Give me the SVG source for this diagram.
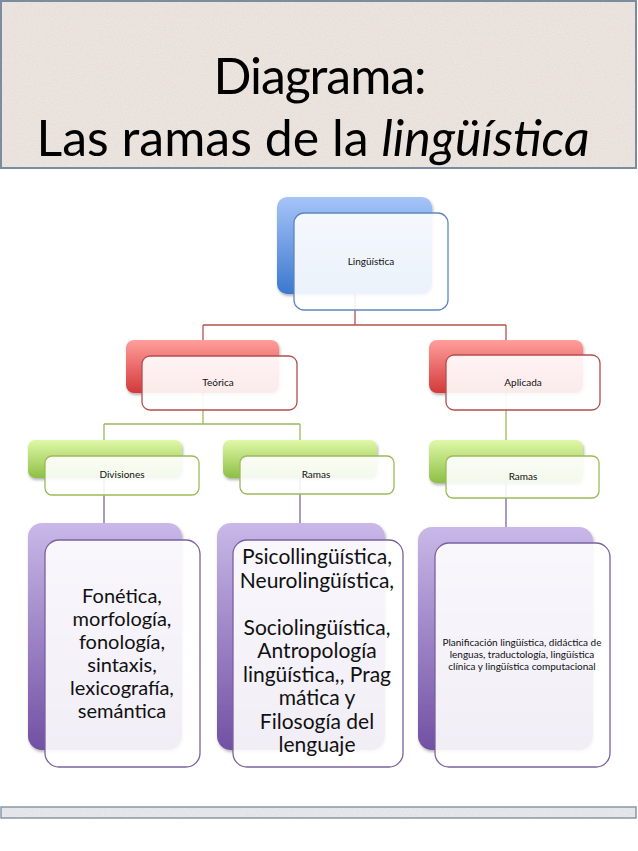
<svg xmlns="http://www.w3.org/2000/svg" width="638" height="851" viewBox="0 0 638 851">
<defs>
<linearGradient id="gBlue" x1="0" y1="0" x2="0" y2="1"><stop offset="0" stop-color="#a6c4f8"/><stop offset="1" stop-color="#3b78cf"/></linearGradient>
<linearGradient id="gRed" x1="0" y1="0" x2="0" y2="1"><stop offset="0" stop-color="#ff9e9b"/><stop offset="1" stop-color="#d4393a"/></linearGradient>
<linearGradient id="gGreen" x1="0" y1="0" x2="0" y2="1"><stop offset="0" stop-color="#e0f8a8"/><stop offset="1" stop-color="#8dbf45"/></linearGradient>
<linearGradient id="gPurple" x1="0" y1="0" x2="0" y2="1"><stop offset="0" stop-color="#c9b8e8"/><stop offset="1" stop-color="#7150a3"/></linearGradient>
<filter id="sh" x="-10%" y="-10%" width="125%" height="125%"><feDropShadow dx="1" dy="2" stdDeviation="1.5" flood-color="#000" flood-opacity="0.3"/></filter>
<filter id="tex" x="0" y="0" width="100%" height="100%"><feTurbulence type="fractalNoise" baseFrequency="0.9" numOctaves="2" seed="3" result="n"/><feColorMatrix in="n" type="matrix" values="0 0 0 0 0.55 0 0 0 0 0.5 0 0 0 0 0.47 0 0 0 0.35 0" result="c"/><feComposite in="c" in2="SourceGraphic" operator="in" result="t"/><feMerge><feMergeNode in="SourceGraphic"/><feMergeNode in="t"/></feMerge></filter>
<style>
.front{fill:#ffffff;fill-opacity:0.9;stroke-width:1.3}
.fb{stroke:#5f86bf}.fr{stroke:#b24f4d}.fg{stroke:#9bbb59}.fp{stroke:#7a619e}
.sm{font-family:Lato,"Open Sans",sans-serif;font-size:10px;fill:#111;text-anchor:middle}
.big{font-family:Lato,"Open Sans",sans-serif;font-size:20px;fill:#111;text-anchor:middle}
.mid{font-size:21px}
.title{font-family:Lato,"Open Sans",sans-serif;font-size:50px;fill:#000;text-anchor:middle}
.conn{fill:none;stroke-width:1.3}
</style>
</defs>
<rect width="638" height="851" fill="#ffffff"/>
<g id="banner">
<rect x="1" y="1" width="635" height="167" fill="#f1e9e4" filter="url(#tex)"/>
<rect x="1" y="1" width="635" height="167" fill="none" stroke="#7d8ba0" stroke-width="2"/>
<text class="title" x="320" y="94" textLength="213">Diagrama:</text>
<text class="title" x="313" y="156" textLength="553">Las ramas de la <tspan font-style="italic">lingüística</tspan></text>
</g>
<g id="footer">
<rect x="1" y="807" width="635" height="11" fill="#e9edf2" filter="url(#tex)"/>
<rect x="1" y="807" width="635" height="11" fill="none" stroke="#8c96a6" stroke-width="1.5"/>
</g>
<g id="connectors">
<path class="conn" stroke="#b5524f" d="M355 294 V325 M203 325 H506 M203 325 V340 M506 325 V340"/>
<path class="conn" stroke="#9bbb59" d="M203 393 V424 M104 424 H300 M104 424 V440 M300 424 V440 M506 393 V440"/>
<path class="conn" stroke="#8064a2" d="M104 478 V523 M300 478 V523 M506 483 V527"/>
</g>
<g id="n-linguistica">
<rect x="277" y="197" width="155" height="97" rx="10" fill="url(#gBlue)" filter="url(#sh)"/>
<rect class="front fb" x="294" y="213" width="154" height="97" rx="10"/>
<text class="sm" x="371" y="265">Lingüística</text>
</g>
<g id="n-teorica">
<rect x="126" y="340" width="153" height="53" rx="8" fill="url(#gRed)" filter="url(#sh)"/>
<rect class="front fr" x="142" y="356" width="155" height="54" rx="8"/>
<text class="sm" x="218" y="386">Teórica</text>
</g>
<g id="n-aplicada">
<rect x="429" y="340" width="154" height="53" rx="8" fill="url(#gRed)" filter="url(#sh)"/>
<rect class="front fr" x="446" y="355" width="154" height="55" rx="8"/>
<text class="sm" x="523" y="386">Aplicada</text>
</g>
<g id="n-divisiones">
<rect x="28" y="440" width="154" height="38" rx="7" fill="url(#gGreen)" filter="url(#sh)"/>
<rect class="front fg" x="45" y="456" width="154" height="39" rx="7"/>
<text class="sm" x="122" y="478">Divisiones</text>
</g>
<g id="n-ramas1">
<rect x="223" y="440" width="154" height="38" rx="7" fill="url(#gGreen)" filter="url(#sh)"/>
<rect class="front fg" x="240" y="456" width="154" height="38" rx="7"/>
<text class="sm" x="316" y="478">Ramas</text>
</g>
<g id="n-ramas2">
<rect x="429" y="440" width="154" height="43" rx="7" fill="url(#gGreen)" filter="url(#sh)"/>
<rect class="front fg" x="446" y="456" width="153" height="42" rx="7"/>
<text class="sm" x="523" y="480">Ramas</text>
</g>
<g id="n-fonetica">
<rect x="28" y="523" width="154" height="227" rx="14" fill="url(#gPurple)" filter="url(#sh)"/>
<rect class="front fp" x="45" y="540" width="155" height="227" rx="14"/>
<text class="big" x="122" y="603">Fonética,</text>
<text class="big" x="122" y="626">morfología,</text>
<text class="big" x="122" y="649">fonología,</text>
<text class="big" x="122" y="672">sintaxis,</text>
<text class="big" x="122" y="695">lexicografía,</text>
<text class="big" x="122" y="718">semántica</text>
</g>
<g id="n-psico">
<rect x="217" y="523" width="168" height="227" rx="14" fill="url(#gPurple)" filter="url(#sh)"/>
<rect class="front fp" x="233" y="540" width="170" height="227" rx="14"/>
<text class="big mid" x="317" y="564">Psicollingüística,</text>
<text class="big mid" x="317" y="588">Neurolingüística,</text>
<text class="big mid" x="317" y="635">Sociolingüística,</text>
<text class="big mid" x="317" y="658">Antropología</text>
<text class="big mid" x="317" y="682">lingüística,, Prag</text>
<text class="big mid" x="317" y="705">mática y</text>
<text class="big mid" x="317" y="729">Filosogía del</text>
<text class="big mid" x="317" y="752">lenguaje</text>
</g>
<g id="n-planificacion">
<rect x="418" y="527" width="175" height="223" rx="14" fill="url(#gPurple)" filter="url(#sh)"/>
<rect class="front fp" x="435" y="543" width="175" height="224" rx="14"/>
<text class="sm" x="522" y="646">Planificación lingüística, didáctica de</text>
<text class="sm" x="522" y="658">lenguas, traductología, lingüística</text>
<text class="sm" x="522" y="670">clínica y lingüística computacional</text>
</g>
</svg>
